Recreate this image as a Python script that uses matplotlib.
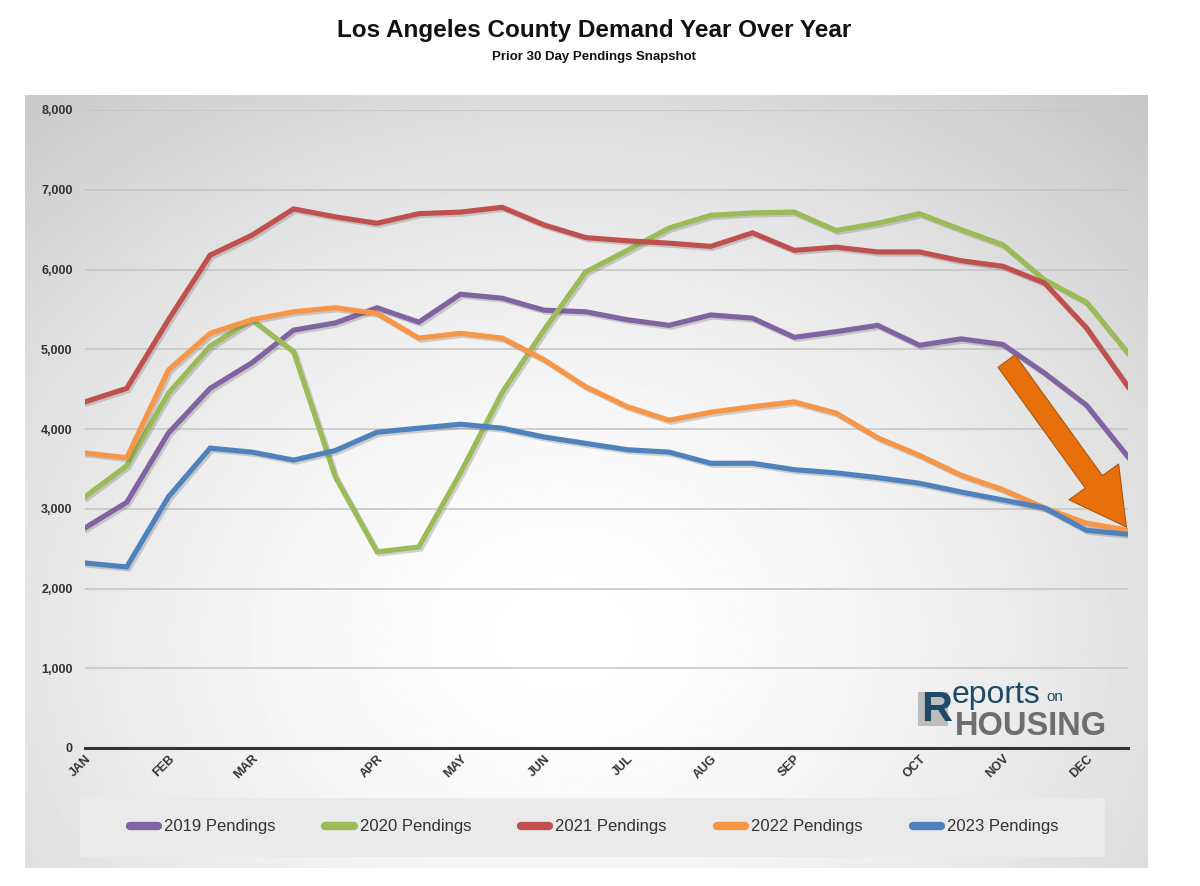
import numpy as np
import matplotlib.pyplot as plt
import matplotlib.patheffects as pe
from matplotlib.patches import Rectangle
from matplotlib.lines import Line2D

# bi-weekly snapshots, 26 per year
ticks_at = [0, 2, 4, 7, 9, 11, 13, 15, 17, 20, 22, 24]
months = ["JAN", "FEB", "MAR", "APR", "MAY", "JUN", "JUL", "AUG", "SEP", "OCT", "NOV", "DEC"]

p2019 = [2760, 3080, 3950, 4510, 4830, 5240, 5330, 5520, 5340, 5690, 5640, 5490, 5470,
         5370, 5300, 5430, 5390, 5150, 5220, 5300, 5050, 5130, 5060, 4700, 4300, 3650]
p2020 = [3150, 3540, 4450, 5040, 5370, 4970, 3400, 2460, 2520, 3450, 4460, 5240, 5970,
         6240, 6520, 6680, 6710, 6720, 6490, 6580, 6700, 6500, 6310, 5870, 5590, 4950]
p2021 = [4340, 4510, 5370, 6180, 6430, 6760, 6660, 6580, 6700, 6720, 6780, 6560, 6400,
         6360, 6330, 6290, 6460, 6240, 6280, 6220, 6220, 6110, 6040, 5830, 5270, 4530]
p2022 = [3700, 3640, 4740, 5200, 5370, 5470, 5520, 5450, 5140, 5200, 5140, 4870, 4530,
         4280, 4110, 4210, 4280, 4340, 4200, 3890, 3670, 3420, 3240, 3010, 2820, 2730]
p2023 = [2320, 2270, 3150, 3760, 3710, 3610, 3730, 3960, 4010, 4060, 4010, 3900, 3820,
         3740, 3710, 3570, 3570, 3490, 3450, 3390, 3320, 3210, 3110, 3010, 2730, 2680]

series = [("2019 Pendings", p2019, "#8064A2"),
          ("2020 Pendings", p2020, "#9BBB59"),
          ("2021 Pendings", p2021, "#C0504D"),
          ("2022 Pendings", p2022, "#F79646"),
          ("2023 Pendings", p2023, "#4F81BD")]

W, H = 1200, 886
fig = plt.figure(figsize=(12, 8.86), dpi=100)
fig.patch.set_facecolor("white")

# gradient chart background
bg = fig.add_axes([25 / W, (H - 868) / H, 1123 / W, 773 / H])
yy, xx = np.mgrid[0:1:400j, 0:1:600j]
r = np.sqrt(((xx - 0.48) / 0.75) ** 2 + ((yy - 0.70) / 0.9) ** 2)
img = 1.0 - 0.21 * np.clip(r, 0, 1.1) ** 1.6
bg.imshow(img, cmap="gray", vmin=0, vmax=1, aspect="auto", extent=[0, 1, 0, 1])
bg.set_axis_off()
# legend panel
bg.add_patch(Rectangle((55 / 1123, (868 - 857) / 773), 1025 / 1123, 59 / 773,
                       facecolor="#EAEAEA", edgecolor="none"))

ax = fig.add_axes([85 / W, (H - 748) / H, 1043 / W, 638 / H])
ax.set_facecolor("none")
x = np.arange(len(p2019))
for name, vals, col in series:
    ax.plot(x, vals, color=col, lw=3.7, solid_joinstyle="miter",
            path_effects=[pe.SimpleLineShadow(offset=(1.5, -1.5), shadow_color="#555555", alpha=0.25),
                          pe.Normal()])

ax.set_xlim(0, 25)
ax.set_ylim(0, 8000)
ax.set_yticks(range(0, 8001, 1000))
ax.set_yticklabels([f"{v:,}" for v in range(0, 8001, 1000)])
ax.grid(axis="y", color="#C4C4C4", lw=1.1)
ax.set_axisbelow(True)
for s in ["top", "right", "left"]:
    ax.spines[s].set_visible(False)
ax.spines["bottom"].set_color("#333333")
ax.spines["bottom"].set_linewidth(2.2)
ax.tick_params(axis="both", length=0, labelsize=9, labelcolor="#333333")
ax.tick_params(axis="y", pad=9)
ax.set_xticks(ticks_at)
ax.set_xticklabels(months, rotation=45, ha="right", va="top", rotation_mode="anchor")
for lab in ax.get_xticklabels() + ax.get_yticklabels():
    lab.set_fontweight("bold")
    lab.set_family("Liberation Sans")

# arrow pointing at year end
ax.annotate("", xy=(1.0, 0.343), xytext=(0.882, 0.61), xycoords="axes fraction",
            arrowprops=dict(arrowstyle="simple,head_length=1.0,head_width=1.1,tail_width=0.38",
                            mutation_scale=40, fc="#E8700A", ec="#A8560F", lw=0.8))

# logo
fig.patches.append(Rectangle((918 / W, (H - 726) / H), 30 / W, 34 / H, transform=fig.transFigure,
                             facecolor="#BDBDBD", edgecolor="none"))
fig.text(921 / W, (H - 690) / H, "R", fontsize=31, color="#1E4A66", fontweight="bold",
         family="Liberation Sans", va="top")
fig.text(952 / W, (H - 680) / H, "eports", fontsize=23, color="#1E4A66",
         family="Liberation Sans", va="top")
fig.text(1046 / W, (H - 690) / H, "on", fontsize=11, color="#1E4A66",
         family="Liberation Sans", va="top")
fig.text(955 / W, (H - 711) / H, "HOUSING", fontsize=23.5, color="#6E6E6E", fontweight="bold",
         family="Liberation Sans", va="top")

# titles
fig.text(594 / W, (H - 31) / H, "Los Angeles County Demand Year Over Year", ha="center", va="center",
         fontsize=17.5, fontweight="bold", family="Liberation Sans", color="#111111")
fig.text(594 / W, (H - 57) / H, "Prior 30 Day Pendings Snapshot", ha="center", va="center",
         fontsize=9.5, fontweight="bold", family="Liberation Sans", color="#111111")

handles = [Line2D([0], [0], color=c, lw=6, solid_capstyle="round") for _, _, c in series]
fig.legend(handles, [n for n, _, _ in series], loc="center", ncol=5,
           bbox_to_anchor=(594 / W, (H - 827) / H), frameon=False,
           prop=dict(family="Liberation Sans", size=12),
           handlelength=1.7, handletextpad=0.35, columnspacing=3.0, labelcolor="#333333")

fig.savefig("out.png", dpi=100)
